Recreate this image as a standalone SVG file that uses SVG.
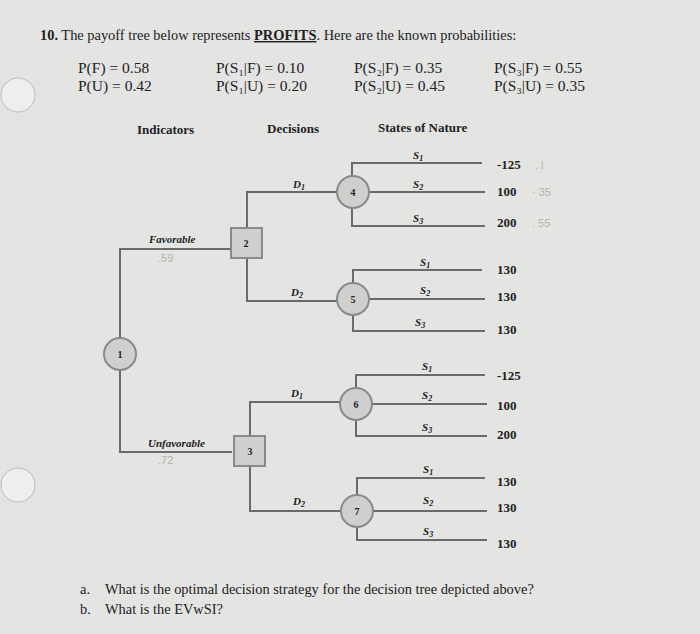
<svg xmlns="http://www.w3.org/2000/svg" width="700" height="634" viewBox="0 0 700 634">
<style>
text{font-family:"Liberation Serif",serif;fill:#222}
.h{font-size:14.4px}
.p{font-size:15.5px}
.b{font-weight:bold;font-size:13px}
.i{font-style:italic;font-size:11px;font-weight:bold}
.v{font-weight:bold;font-size:13px}
.hw{font-family:"Liberation Sans",sans-serif;font-size:11px;fill:#b8b2aa}
.ln{stroke:#6a6a6a;stroke-width:2;fill:none}
.c{fill:#cfcfcd;stroke:#8a8a8a;stroke-width:2}
.n{font-size:10px;font-weight:bold;text-anchor:middle}
</style>
<rect width="700" height="634" fill="#e4e4e2"/>
<circle cx="18" cy="95" r="17" fill="#eeeeec" stroke="#bbb"/>
<circle cx="18" cy="485" r="17" fill="#eeeeec" stroke="#bbb"/>
<text x="40" y="40" class="h"><tspan font-weight="bold">10.</tspan> The payoff tree below represents <tspan font-weight="bold" text-decoration="underline">PROFITS</tspan>. Here are the known probabilities:</text>
<text x="78" y="73" class="p">P(F) = 0.58</text><text x="78" y="91" class="p">P(U) = 0.42</text>
<text x="216" y="73" class="p">P(S₁|F) = 0.10</text><text x="216" y="91" class="p">P(S₁|U) = 0.20</text>
<text x="354" y="73" class="p">P(S₂|F) = 0.35</text><text x="354" y="91" class="p">P(S₂|U) = 0.45</text>
<text x="494" y="73" class="p">P(S₃|F) = 0.55</text><text x="494" y="91" class="p">P(S₃|U) = 0.35</text>
<text x="137" y="134" class="b">Indicators</text>
<text x="267" y="133" class="b">Decisions</text>
<text x="378" y="132" class="b">States of Nature</text>
<g id="connectors" class="ln">
<path d="M120,338V249H230M120,370V452H232"/>
<path d="M247,228V192H337M247,258V301H337"/>
<path d="M352,176V163H482M368,192H485M352,208V226H485"/>
<path d="M353,283V270H482M369,299H485M353,315V331H485"/>
<path d="M250,436V402H340M250,466V511H341"/>
<path d="M356,388V375H485M372,404H487M356,420V436H487"/>
<path d="M357,495V478H485M373,511H487M357,527V540H487"/>
</g>
<g id="n1"><circle cx="120" cy="354" r="16" class="c"/><text x="120" y="358" class="n">1</text></g>
<g id="n2"><rect x="231" y="228" width="31" height="30" class="c"/><text x="246" y="247" class="n">2</text></g>
<g id="n3"><rect x="234" y="436" width="31" height="30" class="c"/><text x="250" y="455" class="n">3</text></g>
<g id="n4"><circle cx="353" cy="192" r="16" class="c"/><text x="353" y="196" class="n">4</text></g>
<g id="n5"><circle cx="353" cy="299" r="16" class="c"/><text x="353" y="303" class="n">5</text></g>
<g id="n6"><circle cx="356" cy="404" r="16" class="c"/><text x="356" y="408" class="n">6</text></g>
<g id="n7"><circle cx="357" cy="511" r="16" class="c"/><text x="357" y="515" class="n">7</text></g>
<g id="labels">
<text x="149" y="243" class="i">Favorable</text>
<text x="148" y="447" class="i">Unfavorable</text>
<text x="293" y="188" class="i">D<tspan font-size="8" dy="2">1</tspan></text>
<text x="291" y="296" class="i">D<tspan font-size="8" dy="2">2</tspan></text>
<text x="291" y="397" class="i">D<tspan font-size="8" dy="2">1</tspan></text>
<text x="293" y="505" class="i">D<tspan font-size="8" dy="2">2</tspan></text>
<text x="413" y="159" class="i">S<tspan font-size="8" dy="2">1</tspan></text>
<text x="413" y="188" class="i">S<tspan font-size="8" dy="2">2</tspan></text>
<text x="413" y="222" class="i">S<tspan font-size="8" dy="2">3</tspan></text>
<text x="420" y="266" class="i">S<tspan font-size="8" dy="2">1</tspan></text>
<text x="420" y="294" class="i">S<tspan font-size="8" dy="2">2</tspan></text>
<text x="415" y="326" class="i">S<tspan font-size="8" dy="2">3</tspan></text>
<text x="422" y="370" class="i">S<tspan font-size="8" dy="2">1</tspan></text>
<text x="422" y="399" class="i">S<tspan font-size="8" dy="2">2</tspan></text>
<text x="422" y="431" class="i">S<tspan font-size="8" dy="2">3</tspan></text>
<text x="423" y="473" class="i">S<tspan font-size="8" dy="2">1</tspan></text>
<text x="423" y="504" class="i">S<tspan font-size="8" dy="2">2</tspan></text>
<text x="423" y="535" class="i">S<tspan font-size="8" dy="2">3</tspan></text>
<text x="497" y="169" class="v">-125</text><text x="497" y="196" class="v">100</text><text x="497" y="227" class="v">200</text>
<text x="497" y="274" class="v">130</text><text x="497" y="301" class="v">130</text><text x="497" y="334" class="v">130</text>
<text x="497" y="380" class="v">-125</text><text x="497" y="410" class="v">100</text><text x="497" y="439" class="v">200</text>
<text x="497" y="486" class="v">130</text><text x="497" y="512" class="v">130</text><text x="497" y="548" class="v">130</text>
<text x="535" y="169" class="hw">. l</text><text x="532" y="196" class="hw">· 35</text><text x="532" y="227" class="hw">. 55</text>
<text x="158" y="262" class="hw">.59</text><text x="158" y="464" class="hw">.72</text>
</g>
<text x="80" y="594" class="h">a.<tspan x="105">What is the optimal decision strategy for the decision tree depicted above?</tspan></text>
<text x="80" y="614" class="h">b.<tspan x="105">What is the EVwSI?</tspan></text>
</svg>
